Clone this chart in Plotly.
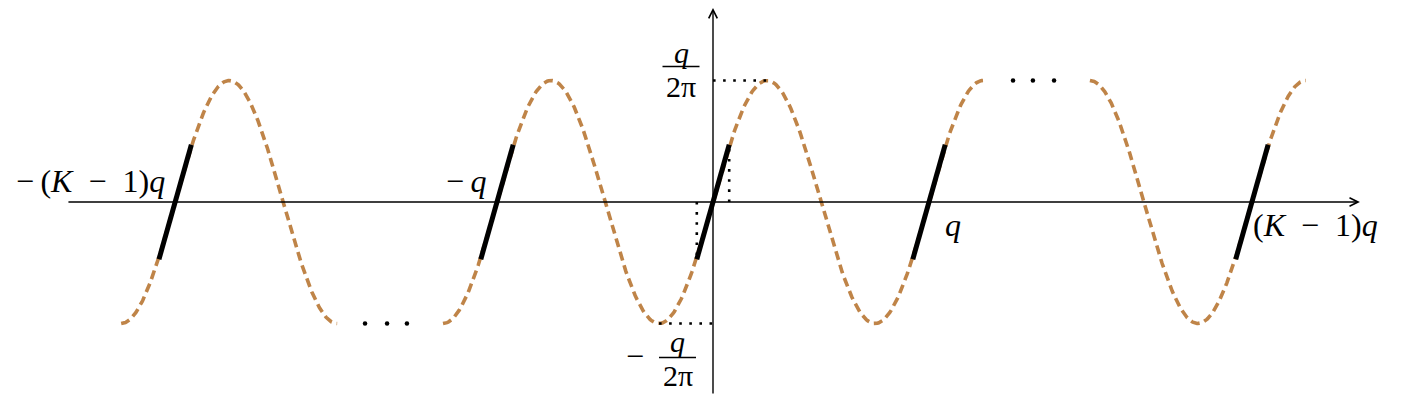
import numpy as np
import plotly.graph_objects as go

# zero crossings (units of q) where the linear segments sit
crossings = [-2.49, -1.0, 0.0, 1.0, 2.495]
crossing_labels = ["−\u2009(<i>K</i>\u2002−\u20021)<i>q</i>", "−\u2009<i>q</i>", "", "<i>q</i>",
                   "(<i>K</i>\u2002−\u20021)<i>q</i>"]
# dashed sine pieces: (phase crossing, start, end)
pieces = [(-2.49, -2.74, -1.74), (0.0, -1.25, 1.25), (2.495, 1.745, 2.745)]
amplitude = 1.0        # q / (2 pi)
half_width = 0.075     # half x-span of the solid linear segments
ellipsis_low_x = [-1.611, -1.509, -1.417]
ellipsis_high_x = [1.389, 1.481, 1.579]
x_axis_span = [-2.991, 2.995]
y_axis_span = [-1.588, 1.597]

BROWN = "#BF8448"
FONT = dict(family="Liberation Serif", size=32, color="black")

fig = go.Figure()

# dashed sine pieces
for c, x0, x1 in pieces:
    xs = np.linspace(x0, x1, 400)
    fig.add_trace(go.Scatter(
        x=xs, y=amplitude * np.sin(2 * np.pi * (xs - c)), mode="lines",
        line=dict(color=BROWN, width=3.6, dash="9px,5px")
    ))

# guides around the origin
slope = 2 * np.pi * amplitude
dot_line = dict(color="black", width=2.6, dash="2.6px,7.5px")
fig.add_trace(go.Scatter(x=[-half_width, -half_width], y=[0, -slope * half_width], mode="lines", line=dot_line))
fig.add_trace(go.Scatter(x=[half_width, half_width], y=[0, slope * half_width], mode="lines", line=dot_line))
fig.add_trace(go.Scatter(x=[0, 0.25], y=[amplitude, amplitude], mode="lines", line=dot_line))
fig.add_trace(go.Scatter(x=[-0.25, 0], y=[-amplitude, -amplitude], mode="lines", line=dot_line))

# solid linear segments at each crossing
for c in crossings:
    xs = np.array([c - half_width, c + half_width])
    fig.add_trace(go.Scatter(x=xs, y=slope * (xs - c), mode="lines",
                             line=dict(color="black", width=5)))

# ellipsis dots
fig.add_trace(go.Scatter(x=ellipsis_low_x, y=[-amplitude] * 3, mode="markers",
                         marker=dict(color="black", size=4.5)))
fig.add_trace(go.Scatter(x=ellipsis_high_x, y=[amplitude] * 3, mode="markers",
                         marker=dict(color="black", size=4.5)))

annotations = []
# axes with arrows
for tip, tail in [((x_axis_span[1], 0), (x_axis_span[0], 0)), ((0, y_axis_span[1]), (0, y_axis_span[0]))]:
    annotations.append(dict(x=tip[0], y=tip[1], ax=tail[0], ay=tail[1], xref="x", yref="y",
                            axref="x", ayref="y", text="", showarrow=True, arrowhead=5,
                            arrowsize=1.2, arrowwidth=1.4, arrowcolor="black", standoff=0))

# crossing labels
label_pos = {0: ("right", -8, 21), 1: ("right", -9, 21), 3: ("left", 14, -23), 4: ("left", -1, -23)}
for i, (anchor, dx, dy) in label_pos.items():
    annotations.append(dict(x=crossings[i], y=0, text=crossing_labels[i], showarrow=False,
                            xanchor=anchor, yanchor="middle", xshift=dx, yshift=dy, font=FONT))

# fraction labels on the y-axis: (value, sign, centre offset, q shift, bar shift, 2pi shift)
frac_font = dict(FONT, size=30)
fractions = [(amplitude, "", -32, 28, 14, -6), (-amplitude, "−", -35.5, -18, -34, -52)]
shapes = []
for yv, sign, cx, q_dy, bar_dy, pi_dy in fractions:
    annotations.append(dict(x=0, y=yv, text="<i>q</i>", showarrow=False, xanchor="center",
                            yanchor="middle", xshift=cx, yshift=q_dy, font=frac_font))
    annotations.append(dict(x=0, y=yv, text="2π", showarrow=False, xanchor="center",
                            yanchor="middle", xshift=cx, yshift=pi_dy, font=frac_font))
    if sign:
        annotations.append(dict(x=0, y=yv, text=sign, showarrow=False, xanchor="center",
                                yanchor="middle", xshift=cx - 43, yshift=bar_dy + 2, font=FONT))
    shapes.append(dict(type="line", xref="x", yref="y", xsizemode="pixel", ysizemode="pixel",
                       xanchor=0, yanchor=yv, x0=cx - 18.5, x1=cx + 18.5, y0=bar_dy, y1=bar_dy,
                       line=dict(color="black", width=1.3)))

fig.update_layout(
    width=1403, height=414,
    margin=dict(l=0, r=0, t=0, b=0),
    paper_bgcolor="white", plot_bgcolor="white",
    showlegend=False,
    xaxis=dict(range=[-713 / 216, 690 / 216], visible=False, fixedrange=True),
    yaxis=dict(range=[-212 / 121.5, 202 / 121.5], visible=False, fixedrange=True),
    annotations=annotations,
    shapes=shapes,
)

fig.write_html("out.html", config={"displayModeBar": False},
               post_script="document.body.style.margin='0px';")
